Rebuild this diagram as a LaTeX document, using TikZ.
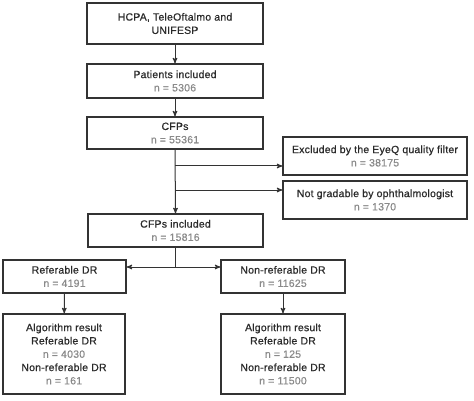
\documentclass[tikz,border=0pt]{standalone}
\usepackage{fontspec}
\setmainfont{Liberation Sans}
\newfontfamily\headfont[FakeBold=0.6, LetterSpace=2]{Liberation Sans}
\usetikzlibrary{arrows}
\definecolor{linegray}{HTML}{333333}
\definecolor{headgray}{HTML}{2A2A2A}
\definecolor{numgray}{HTML}{8A8A8A}
\newcommand{\nval}[1]{\textcolor{numgray}{n = #1}}

\begin{document}
\begin{tikzpicture} [x=1pt, y=-1pt,
  box/.style={draw=linegray, line width=1.2pt, align=center, text=headgray, inner sep=0pt,
    font=\headfont\fontsize{10.5}{13.3}\selectfont},
  flow/.style={linegray, line width=1pt, ->, >=stealth'}]
\useasboundingbox (0,0) rectangle (474,401);
% main column
\node[box, minimum width=176, minimum height=41] (src) at (175,23.5) {HCPA, TeleOftalmo and\\UNIFESP};
\node[box, minimum width=176, minimum height=34] (pat) at (175,81) {Patients included\\\nval{5306}};
\node[box, minimum width=176, minimum height=32] (cfp) at (175,133) {CFPs\\\nval{55361}};
\node[box, minimum width=175, minimum height=33] (inc) at (175.5,230.5) {CFPs included\\\nval{15816}};
% exclusions
\node[box, minimum width=184, minimum height=38] (excl) at (375,156) {Excluded by the EyeQ quality filter\\\nval{38175}};
\node[box, minimum width=184, minimum height=38] (notg) at (375,200) {Not gradable by ophthalmologist\\\nval{1370}};
% split
\node[box, minimum width=123, minimum height=33] (ref) at (64.5,276.5) {Referable DR\\\nval{4191}};
\node[box, minimum width=124, minimum height=33] (nonref) at (283,276.5) {Non-referable DR\\\nval{11625}};
\node[box, minimum width=122, minimum height=80] (algL) at (64,354) {Algorithm result\\Referable DR\\\nval{4030}\\Non-referable DR\\\nval{161}};
\node[box, minimum width=124, minimum height=80] (algR) at (283,354) {Algorithm result\\Referable DR\\\nval{125}\\Non-referable DR\\\nval{11500}};
% connectors
\draw[flow] (src) -- (pat);
\draw[flow] (pat) -- (cfp);
\draw[flow] (cfp.south) -- (inc.north);
\coordinate (e1) at (cfp.south |- 0,166);
\coordinate (e2) at (cfp.south |- 0,190);
\draw[flow] (e1) -- (excl.west |- e1);
\draw[flow] (e2) -- (notg.west |- e2);
\coordinate (split) at (inc.south |- 0,267);
\draw[linegray, line width=1pt] (inc.south) -- (split);
\draw[flow] (split) -- (ref.east |- split);
\draw[flow] (split) -- (nonref.west |- split);
\draw[flow] (ref) -- (algL);
\draw[flow] (nonref) -- (algR);
\end{tikzpicture}
\end{document}
